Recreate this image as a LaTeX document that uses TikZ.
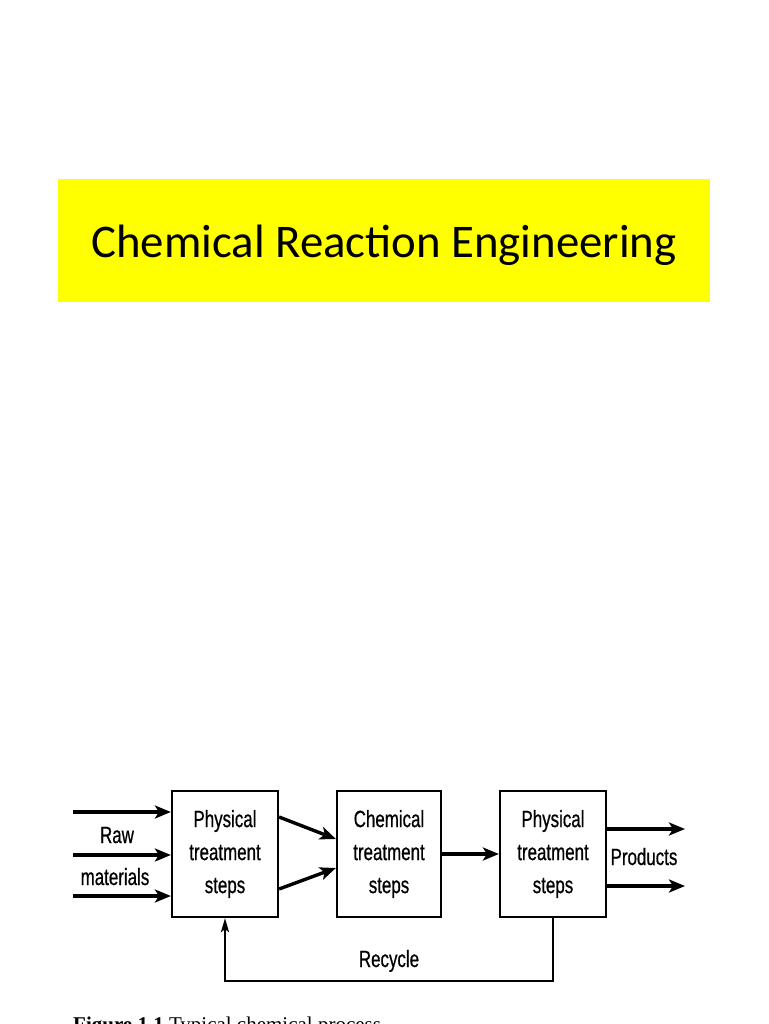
\documentclass[tikz,border=0pt]{standalone}
\usepackage{fontspec}
\setmainfont{Liberation Serif}
\newfontfamily\titlefont{Carlito}
\newfontfamily\diagfont[FakeStretch=0.72,FakeBold=0.6]{Liberation Sans}
\usetikzlibrary{arrows.meta}
\definecolor{titleyellow}{RGB}{255,255,0}
\begin{document}
\begin{tikzpicture}[x=1pt,y=-1pt,
		stepbox/.style={draw,line width=2.2pt,minimum width=106pt,minimum height=126pt,align=center,inner sep=0pt,font=\diagfont\fontsize{23.5}{33}\selectfont},
		lbl/.style={anchor=base,inner sep=0pt,font=\diagfont\fontsize{23.5}{33}\selectfont},
		flow/.style={line width=3.4pt,-{Stealth[length=16pt,width=13pt,inset=4pt]}},
		back/.style={line width=2.2pt,-{Stealth[length=14pt,width=8pt,inset=3pt]}}]
		\clip (0,0) rectangle (768,1024);
		\fill[white] (0,0) rectangle (768,1024);
		\fill[titleyellow] (58,179) rectangle (710,302);
		\node[anchor=base,inner sep=0pt,font=\titlefont\fontsize{46.8}{56}\selectfont] (title) at (384,257) {Chemical Reaction Engineering};
		\node[stepbox] (phys1) at (225,854) {Physical\\treatment\\steps};
		\node[stepbox,minimum width=104pt] (chem) at (389,854) {Chemical\\treatment\\steps};
		\node[stepbox] (phys2) at (553,854) {Physical\\treatment\\steps};
		\foreach \y/\n in {812/1,855/2,896/3}{
				\coordinate (raw\n) at (73,\y);
				\draw[flow] (raw\n) -- (raw\n -| phys1.west);
			}
		\node[lbl] (rawtext) at (117,843) {Raw};
		\node[lbl] (mattext) at (115,885) {materials};
		\draw[flow] ([yshift=37pt]phys1.east) -- ([yshift=15pt]chem.west);
		\draw[flow] ([yshift=-35pt]phys1.east) -- ([yshift=-14pt]chem.west);
		\draw[flow] (chem.east) -- (phys2.west);
		\coordinate (prod1) at (685,829);
		\coordinate (prod2) at (685,886);
		\draw[flow] (prod1 -| phys2.east) -- (prod1);
		\draw[flow] (prod2 -| phys2.east) -- (prod2);
		\node[lbl] (prodtext) at (644,865) {Products};
		\draw[back] (phys2.south) -- ++(0,63) -| (phys1.south);
		\node[lbl] (recycle) at (389,967) {Recycle};
		\node[anchor=base west,inner sep=0pt,font=\fontsize{21}{25}\selectfont] (caption) at (73,1031) {\textbf{Figure 1.1} Typical chemical process};
	\end{tikzpicture}
\end{document}
